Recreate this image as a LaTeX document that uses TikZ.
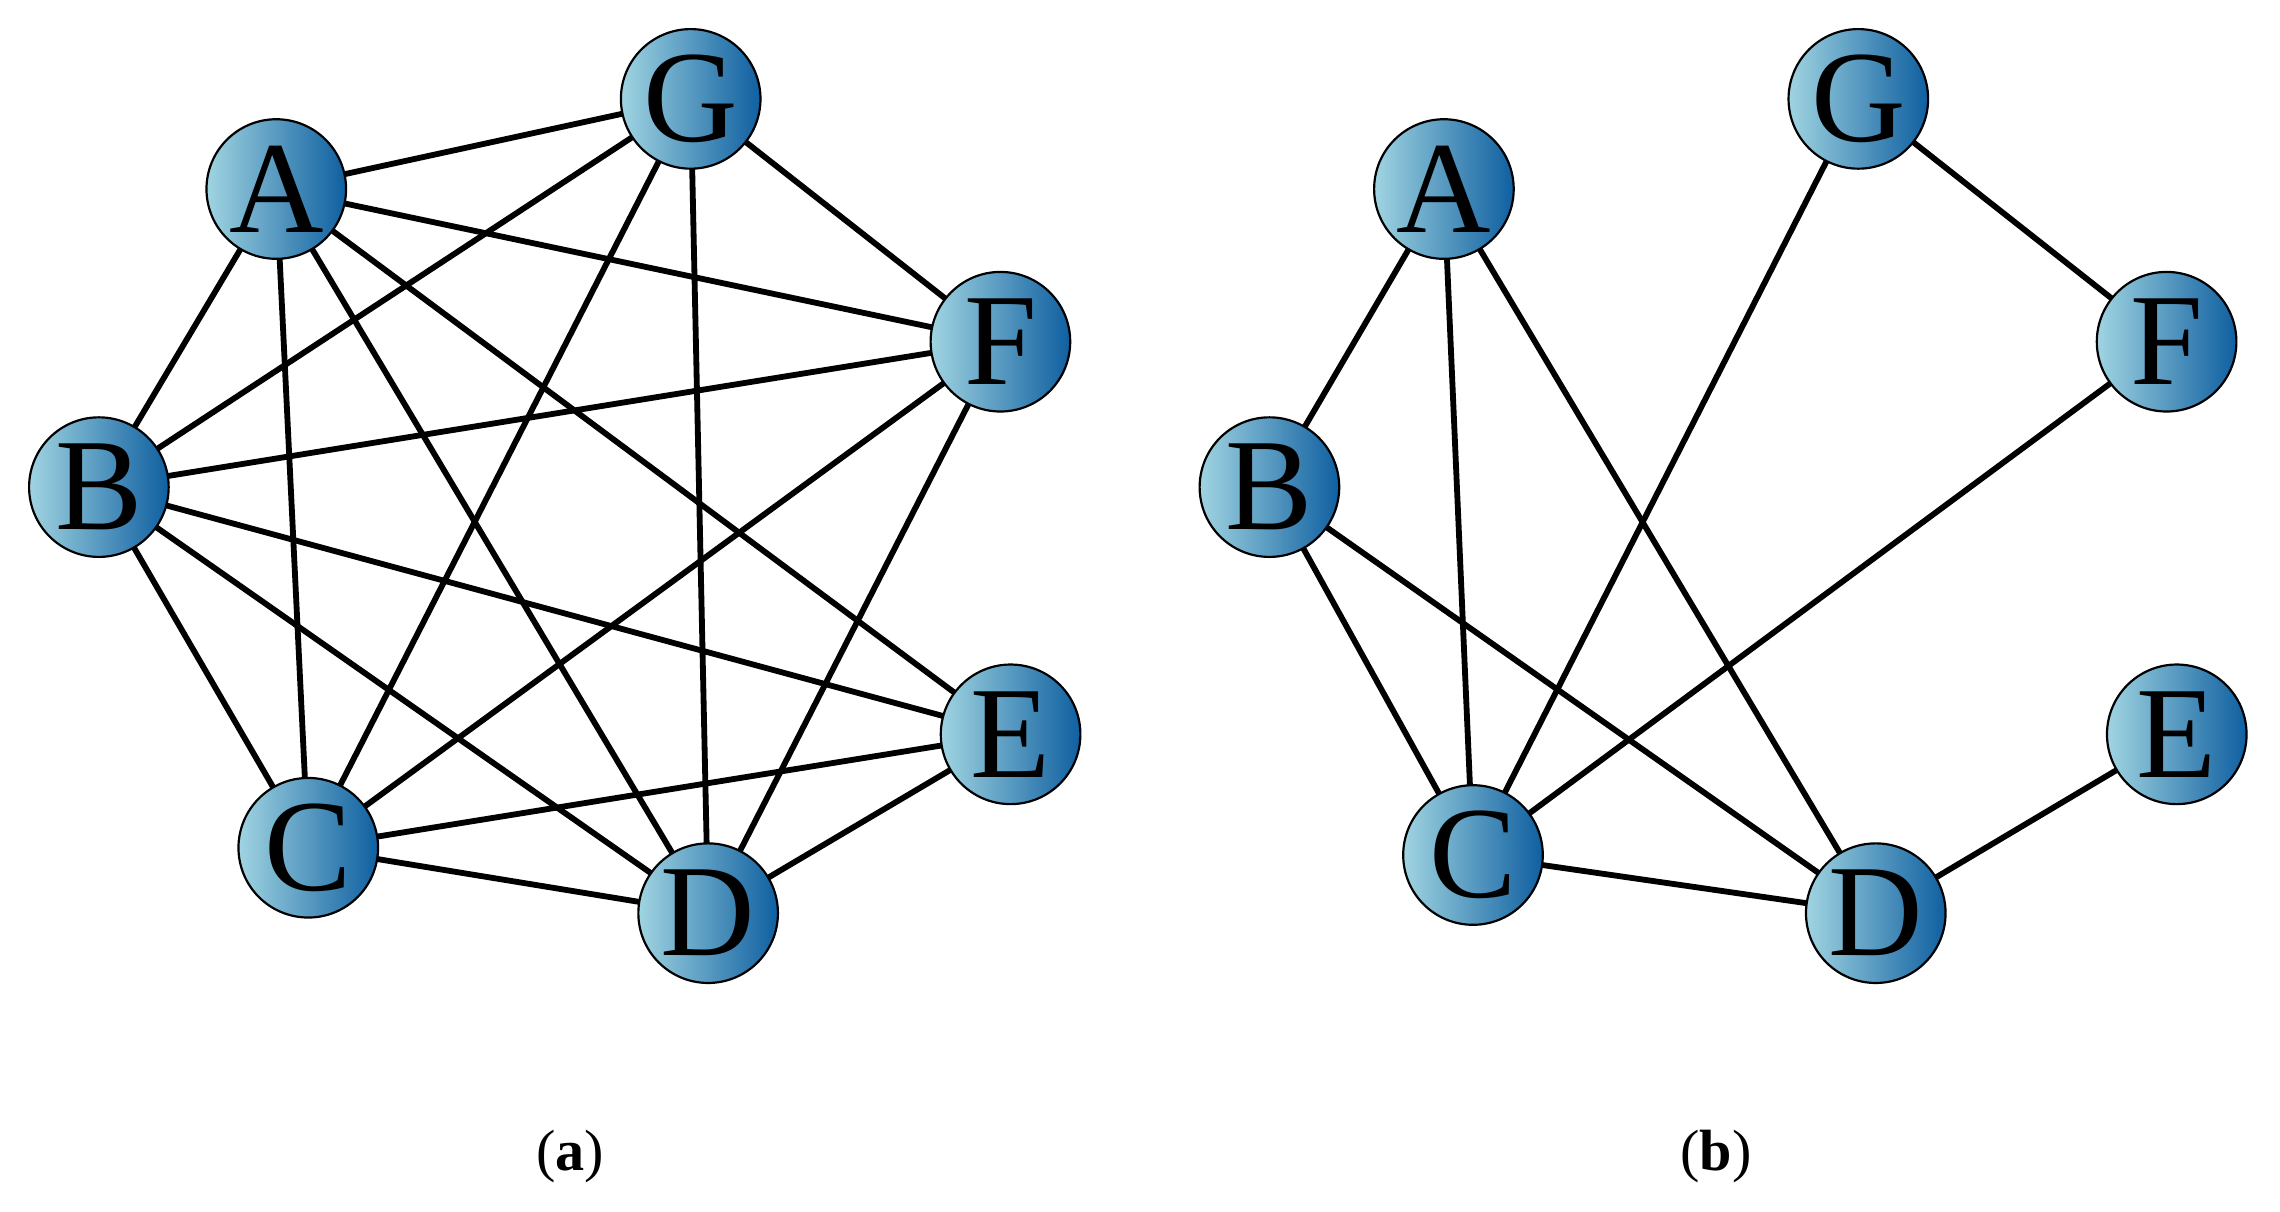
\documentclass[tikz,border=0pt]{standalone}
\usepackage{fontspec}
\setmainfont{Liberation Serif}
\definecolor{nl}{RGB}{160,212,225}
\definecolor{nm}{RGB}{125,195,213}
\definecolor{nd}{RGB}{15,95,160}
\begin{document}
\begin{tikzpicture}[x=1pt,y=-1pt,
  nd/.style={circle,draw=black,line width=1.5pt,minimum size=96pt,inner sep=0pt,
    left color=nl,middle color=nm,right color=nd,
    font=\fontsize{90}{90}\selectfont},
  ed/.style={line width=4pt},
  captxt/.style={font=\fontsize{40}{40}\selectfont}]
\useasboundingbox (0,0) rectangle (1568,833);
% (a)
\coordinate (aA) at (190,130);
\coordinate (aG) at (475,68);
\coordinate (aF) at (688,235);
\coordinate (aB) at (68,335);
\coordinate (aE) at (695,505);
\coordinate (aC) at (212,583);
\coordinate (aD) at (487,628);
\foreach \u/\v in {A/G,A/F,A/B,A/E,A/C,A/D,G/F,G/B,G/C,G/D,F/B,F/C,F/D,B/E,B/C,B/D,E/C,E/D,C/D}
  \draw[ed] (a\u) -- (a\v);
\foreach \n in {A,G,F,B,E,C,D}
  \node[nd] (m\n) at (a\n) {\n};
% (b)
\coordinate (bA) at (993,130);
\coordinate (bG) at (1278,68);
\coordinate (bF) at (1490,235);
\coordinate (bB) at (873,335);
\coordinate (bE) at (1497,505);
\coordinate (bC) at (1013,588);
\coordinate (bD) at (1290,628);
\foreach \u/\v in {A/B,A/C,A/D,B/C,B/D,C/G,C/F,C/D,G/F,D/E}
  \draw[ed] (b\u) -- (b\v);
\foreach \n in {A,G,F,B,E,C,D}
  \node[nd] (n\n) at (b\n) {\n};
\node[captxt] (la) at (392,795) {(\textbf{a})};
\node[captxt] (lb) at (1180,795) {(\textbf{b})};
\end{tikzpicture}
\end{document}
